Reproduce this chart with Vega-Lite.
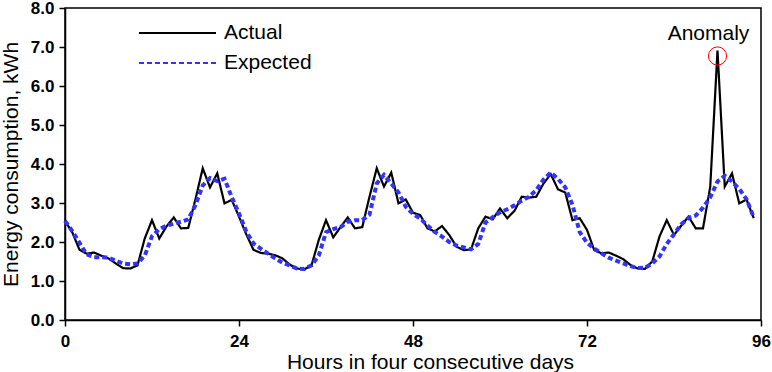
{
  "$schema": "https://vega.github.io/schema/vega-lite/v6.json",
  "width": 696,
  "height": 312,
  "autosize": {"type": "none"},
  "padding": {"left": 65, "top": 8, "right": 11, "bottom": 52},
  "background": "white",
  "config": {
    "font": "Liberation Sans",
    "view": {"stroke": "black", "strokeWidth": 1.5},
    "axis": {
      "grid": false,
      "domainColor": "black",
      "domainWidth": 1.5,
      "tickColor": "black",
      "tickWidth": 1.5,
      "tickSize": 6,
      "labelColor": "black",
      "labelFont": "Liberation Sans",
      "labelFontWeight": "bold",
      "labelFontSize": 17,
      "labelOverlap": false,
      "titleColor": "black",
      "titleFont": "Liberation Sans",
      "titleFontWeight": "normal",
      "titleFontSize": 21
    }
  },
  "datasets": {
    "energy": [
      {"hour": 0, "Actual": 2.54, "Expected": 2.54},
      {"hour": 1, "Actual": 2.25, "Expected": 2.28},
      {"hour": 2, "Actual": 1.80, "Expected": 1.98},
      {"hour": 3, "Actual": 1.70, "Expected": 1.68},
      {"hour": 4, "Actual": 1.73, "Expected": 1.61},
      {"hour": 5, "Actual": 1.65, "Expected": 1.61},
      {"hour": 6, "Actual": 1.58, "Expected": 1.60},
      {"hour": 7, "Actual": 1.45, "Expected": 1.52},
      {"hour": 8, "Actual": 1.33, "Expected": 1.45},
      {"hour": 9, "Actual": 1.32, "Expected": 1.43},
      {"hour": 10, "Actual": 1.40, "Expected": 1.45},
      {"hour": 11, "Actual": 2.09, "Expected": 1.65},
      {"hour": 12, "Actual": 2.56, "Expected": 2.15},
      {"hour": 13, "Actual": 2.09, "Expected": 2.33},
      {"hour": 14, "Actual": 2.40, "Expected": 2.42},
      {"hour": 15, "Actual": 2.63, "Expected": 2.47},
      {"hour": 16, "Actual": 2.35, "Expected": 2.52},
      {"hour": 17, "Actual": 2.36, "Expected": 2.58},
      {"hour": 18, "Actual": 3.10, "Expected": 2.95},
      {"hour": 19, "Actual": 3.89, "Expected": 3.45},
      {"hour": 20, "Actual": 3.40, "Expected": 3.64},
      {"hour": 21, "Actual": 3.76, "Expected": 3.56},
      {"hour": 22, "Actual": 2.99, "Expected": 3.62},
      {"hour": 23, "Actual": 3.08, "Expected": 3.15},
      {"hour": 24, "Actual": 2.65, "Expected": 2.73},
      {"hour": 25, "Actual": 2.20, "Expected": 2.27},
      {"hour": 26, "Actual": 1.80, "Expected": 1.96},
      {"hour": 27, "Actual": 1.72, "Expected": 1.83},
      {"hour": 28, "Actual": 1.70, "Expected": 1.70},
      {"hour": 29, "Actual": 1.66, "Expected": 1.58},
      {"hour": 30, "Actual": 1.58, "Expected": 1.47},
      {"hour": 31, "Actual": 1.42, "Expected": 1.40},
      {"hour": 32, "Actual": 1.32, "Expected": 1.32},
      {"hour": 33, "Actual": 1.30, "Expected": 1.31},
      {"hour": 34, "Actual": 1.40, "Expected": 1.40},
      {"hour": 35, "Actual": 2.05, "Expected": 1.65},
      {"hour": 36, "Actual": 2.56, "Expected": 2.25},
      {"hour": 37, "Actual": 2.12, "Expected": 2.33},
      {"hour": 38, "Actual": 2.38, "Expected": 2.38},
      {"hour": 39, "Actual": 2.63, "Expected": 2.52},
      {"hour": 40, "Actual": 2.35, "Expected": 2.56},
      {"hour": 41, "Actual": 2.38, "Expected": 2.56},
      {"hour": 42, "Actual": 3.16, "Expected": 2.70},
      {"hour": 43, "Actual": 3.89, "Expected": 3.50},
      {"hour": 44, "Actual": 3.42, "Expected": 3.72},
      {"hour": 45, "Actual": 3.78, "Expected": 3.50},
      {"hour": 46, "Actual": 2.99, "Expected": 3.27},
      {"hour": 47, "Actual": 3.09, "Expected": 2.90},
      {"hour": 48, "Actual": 2.75, "Expected": 2.72},
      {"hour": 49, "Actual": 2.69, "Expected": 2.60},
      {"hour": 50, "Actual": 2.35, "Expected": 2.42},
      {"hour": 51, "Actual": 2.27, "Expected": 2.26},
      {"hour": 52, "Actual": 2.41, "Expected": 2.14},
      {"hour": 53, "Actual": 2.18, "Expected": 2.00},
      {"hour": 54, "Actual": 1.88, "Expected": 1.91},
      {"hour": 55, "Actual": 1.79, "Expected": 1.86},
      {"hour": 56, "Actual": 1.81, "Expected": 1.81},
      {"hour": 57, "Actual": 2.35, "Expected": 1.95},
      {"hour": 58, "Actual": 2.65, "Expected": 2.50},
      {"hour": 59, "Actual": 2.58, "Expected": 2.64},
      {"hour": 60, "Actual": 2.86, "Expected": 2.76},
      {"hour": 61, "Actual": 2.61, "Expected": 2.84},
      {"hour": 62, "Actual": 2.80, "Expected": 2.94},
      {"hour": 63, "Actual": 3.16, "Expected": 3.06},
      {"hour": 64, "Actual": 3.14, "Expected": 3.16},
      {"hour": 65, "Actual": 3.16, "Expected": 3.33},
      {"hour": 66, "Actual": 3.50, "Expected": 3.60},
      {"hour": 67, "Actual": 3.74, "Expected": 3.78},
      {"hour": 68, "Actual": 3.35, "Expected": 3.62},
      {"hour": 69, "Actual": 3.27, "Expected": 3.40},
      {"hour": 70, "Actual": 2.56, "Expected": 2.95},
      {"hour": 71, "Actual": 2.61, "Expected": 2.25},
      {"hour": 72, "Actual": 2.31, "Expected": 1.98},
      {"hour": 73, "Actual": 1.79, "Expected": 1.83},
      {"hour": 74, "Actual": 1.71, "Expected": 1.71},
      {"hour": 75, "Actual": 1.73, "Expected": 1.60},
      {"hour": 76, "Actual": 1.65, "Expected": 1.52},
      {"hour": 77, "Actual": 1.56, "Expected": 1.45},
      {"hour": 78, "Actual": 1.41, "Expected": 1.38},
      {"hour": 79, "Actual": 1.32, "Expected": 1.33},
      {"hour": 80, "Actual": 1.31, "Expected": 1.34},
      {"hour": 81, "Actual": 1.50, "Expected": 1.45},
      {"hour": 82, "Actual": 2.14, "Expected": 1.63},
      {"hour": 83, "Actual": 2.56, "Expected": 1.95},
      {"hour": 84, "Actual": 2.18, "Expected": 2.20},
      {"hour": 85, "Actual": 2.42, "Expected": 2.45},
      {"hour": 86, "Actual": 2.65, "Expected": 2.62},
      {"hour": 87, "Actual": 2.35, "Expected": 2.68},
      {"hour": 88, "Actual": 2.35, "Expected": 2.88},
      {"hour": 89, "Actual": 3.42, "Expected": 3.15},
      {"hour": 90, "Actual": 6.91, "Expected": 3.55},
      {"hour": 91, "Actual": 3.42, "Expected": 3.70},
      {"hour": 92, "Actual": 3.76, "Expected": 3.55},
      {"hour": 93, "Actual": 2.99, "Expected": 3.36},
      {"hour": 94, "Actual": 3.09, "Expected": 3.10},
      {"hour": 95, "Actual": 2.61, "Expected": 2.63}
    ],
    "anomaly": [
      {"hour": 90, "kWh": 6.77, "label": "Anomaly"}
    ]
  },
  "encoding": {
    "x": {
      "field": "hour", "type": "quantitative",
      "scale": {"domain": [0, 96], "nice": false, "zero": false},
      "axis": {
        "values": [0, 24, 48, 72, 96],
        "title": "Hours in four consecutive days",
        "labelPadding": 7,
        "labelFlush": false,
        "labelOverlap": false,
        "titlePadding": 2,
        "titleX": 365
      }
    },
    "y": {
      "field": "kWh", "type": "quantitative",
      "scale": {"domain": [0, 8], "nice": false},
      "axis": {
        "values": [0, 1, 2, 3, 4, 5, 6, 7, 8],
        "format": ".1f",
        "title": "Energy consumption, kWh",
        "labelPadding": 5,
        "labelOverlap": false,
        "labelBound": false,
        "titlePadding": 9
      }
    }
  },
  "layer": [
    {
      "data": {"name": "energy"},
      "transform": [{"fold": ["Actual"], "as": ["series", "kWh"]}],
      "mark": {"type": "line", "strokeWidth": 2.2, "strokeJoin": "miter"},
      "encoding": {
        "color": {
          "field": "series", "type": "nominal",
          "scale": {"domain": ["Actual", "Expected"], "range": ["#000000", "#3333ff"]},
          "legend": {
            "title": null,
            "orient": "none",
            "legendX": 73,
            "legendY": 10,
            "padding": 0,
            "clipHeight": 30,
            "rowPadding": 0,
            "symbolType": "stroke",
            "symbolSize": 5929,
            "symbolStrokeWidth": 2,
            "labelFont": "Liberation Sans",
            "labelFontSize": 21,
            "labelColor": "black",
            "labelOffset": 7
          }
        },
        "strokeDash": {
          "field": "series", "type": "nominal",
          "scale": {"domain": ["Actual", "Expected"], "range": [[1, 0], [5, 3]]},
          "legend": {
            "title": null,
            "orient": "none",
            "legendX": 73,
            "legendY": 10,
            "padding": 0,
            "clipHeight": 30,
            "rowPadding": 0,
            "symbolType": "stroke",
            "symbolSize": 5929,
            "symbolStrokeWidth": 2,
            "labelFont": "Liberation Sans",
            "labelFontSize": 21,
            "labelColor": "black",
            "labelOffset": 7
          }
        }
      }
    },
    {
      "data": {"name": "energy"},
      "transform": [{"fold": ["Expected"], "as": ["series", "kWh"]}],
      "mark": {"type": "line", "strokeWidth": 4},
      "encoding": {
        "color": {"field": "series", "type": "nominal"},
        "strokeDash": {"field": "series", "type": "nominal"}
      }
    },
    {
      "data": {"name": "anomaly"},
      "mark": {"type": "point", "shape": "circle", "size": 330, "filled": false, "stroke": "#ff0000", "strokeWidth": 1, "opacity": 1},
      "encoding": {}
    },
    {
      "data": {"name": "anomaly"},
      "mark": {"type": "text", "fontSize": 21, "font": "Liberation Sans", "color": "black", "align": "center", "baseline": "alphabetic", "dx": -9, "dy": -16},
      "encoding": {
        "text": {"field": "label"}
      }
    }
  ]
}
